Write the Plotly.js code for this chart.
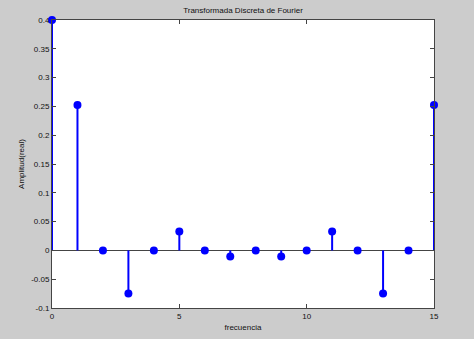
<!DOCTYPE html>
<html><head><meta charset="utf-8">
<script src="https://cdn.plot.ly/plotly-3.0.1.min.js"></script>
<style>html,body{margin:0;padding:0;background:#cccccc}</style>
</head><body>
<div id="chart" style="width:474px;height:339px"></div>
<script>
const frecuencia = [0,1,2,3,4,5,6,7,8,9,10,11,12,13,14,15];
const amplitud = [0.4,0.2525,0,-0.075,0,0.033,0,-0.0105,0,-0.0105,0,0.033,0,-0.075,0,0.2525];
const xTicks = [0,5,10,15];
const yTicks = [-0.1,-0.05,0,0.05,0.1,0.15,0.2,0.25,0.3,0.35,0.4];
const yTickText = ['-0.1','-0.05','0','0.05','0.1','0.15','0.2','0.25','0.3','0.35','0.4'];

const stemX = [], stemY = [];
frecuencia.forEach((f,i)=>{ stemX.push(f,f,null); stemY.push(0,amplitud[i],null); });

const traces = [
  {x: stemX, y: stemY, mode:'lines', line:{color:'#0000ff', width:2}, hoverinfo:'skip', cliponaxis:false},
  {x: frecuencia, y: amplitud, mode:'markers', marker:{color:'#0000ff', size:8}, cliponaxis:false}
];
const font = {family:'Liberation Sans, Arial, sans-serif', size:8, color:'#111'};
const layout = {
  width:474, height:339,
  margin:{l:52, r:40, t:20, b:31},
  paper_bgcolor:'#cccccc', plot_bgcolor:'#ffffff',
  showlegend:false, font: font,
  title:{text:'Transformada Discreta de Fourier', font:{family:font.family,size:8,color:'#111'}, x:0.5, xref:'paper', y:1-10/339, yref:'container', yanchor:'middle'},
  xaxis:{range:[0,15], tickvals:xTicks, ticktext:xTicks.map(String), ticks:'inside', ticklen:4, tickcolor:'#444',
    showline:true, linecolor:'#444', linewidth:1, mirror:'ticks', showgrid:false, zeroline:false,
    title:{text:'frecuencia', font:font, standoff:4}, tickfont:font},
  yaxis:{range:[-0.1,0.4], tickvals:yTicks, ticktext:yTickText,
    ticks:'inside', ticklen:4, tickcolor:'#444',
    showline:true, linecolor:'#444', linewidth:1, mirror:'ticks', showgrid:false,
    zeroline:true, zerolinecolor:'#444', zerolinewidth:1,
    title:{text:'Amplitud(real)', font:font, standoff:5}, tickfont:font}
};
Plotly.newPlot('chart', traces, layout, {displayModeBar:false, staticPlot:true});
</script>
</body></html>
